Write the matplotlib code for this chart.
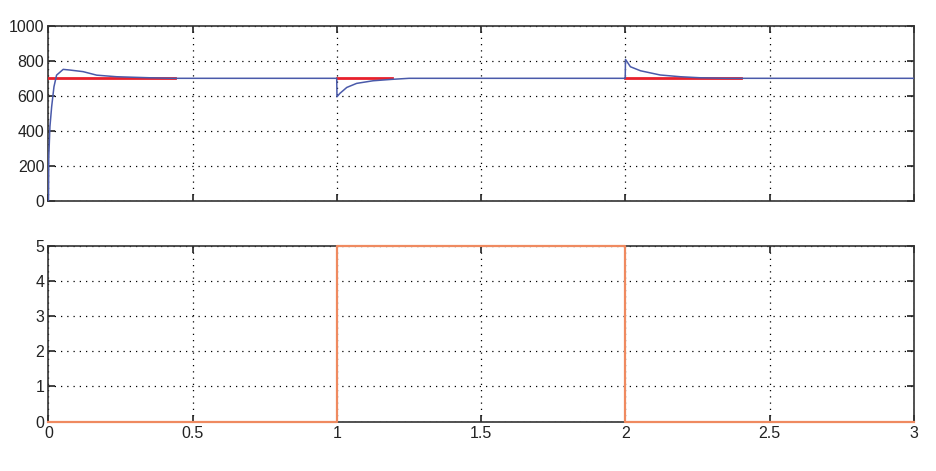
import numpy as np
import matplotlib.pyplot as plt

# speed response (top panel)
t_speed = [0.0, 0.0, 0.001, 0.005, 0.011, 0.019, 0.028, 0.051, 0.075, 0.12, 0.167, 0.236, 0.352, 0.43,
           0.999, 1.0, 1.01, 1.034, 1.068, 1.125, 1.19, 1.25,
           1.999, 2.0, 2.017, 2.052, 2.12, 2.19, 2.26, 2.35, 3.0]
speed = [0, 0, 250, 424, 538, 652, 718, 751, 747, 738, 718, 709, 703, 700,
         700, 595, 614, 648, 671, 686, 694, 700,
         700, 808, 766, 743, 719, 709, 703, 700, 700]

# reference speed, visible only where the response is settling
t_ref = [0.0, 0.44, np.nan, 1.0, 1.19, np.nan, 2.0, 2.40]
ref = [700, 700, np.nan, 700, 700, np.nan, 700, 700]

# load step (bottom panel)
t_load = [0, 1, 1, 2, 2, 3]
load = [0, 0, 5, 5, 0, 0]

plt.rcParams['font.family'] = ['Liberation Sans', 'DejaVu Sans']

fig = plt.figure(figsize=(9.36, 4.71), dpi=100)
ax1 = fig.add_axes([0.0518, 0.5732, 0.9247, 0.3722])
ax2 = fig.add_axes([0.0518, 0.1047, 0.9247, 0.3736])

grid_kw = dict(color='black', linestyle=(0, (1, 4)), linewidth=0.9)

for ax in (ax1, ax2):
    ax.set_xlim(0, 3)
    ax.set_xticks([0, 0.5, 1, 1.5, 2, 2.5, 3])
    ax.grid(True, **grid_kw)
    ax.tick_params(direction='in', length=5, width=1.2, top=True, right=True,
                   labelsize=11.5, colors='#222222', pad=3)
    for s in ax.spines.values():
        s.set_color('#333333')
        s.set_linewidth(1.2)

ax1.plot(t_ref, ref, color='#e8202c', linewidth=2.0, zorder=3)
ax1.plot(t_speed, speed, color='#4a5aaa', linewidth=1.1, zorder=4)
ax1.set_ylim(0, 1000)
ax1.set_yticks([0, 200, 400, 600, 800, 1000])
ax1.set_xticklabels([])

ax2.plot(t_load, load, color='#ef8a60', linewidth=1.6, zorder=4, clip_on=False)
ax2.set_ylim(0, 5)
ax2.set_yticks([0, 1, 2, 3, 4, 5])
ax2.set_xticklabels(['0', '0.5', '1', '1.5', '2', '2.5', '3'])

fig.savefig('out.png', dpi=100)
